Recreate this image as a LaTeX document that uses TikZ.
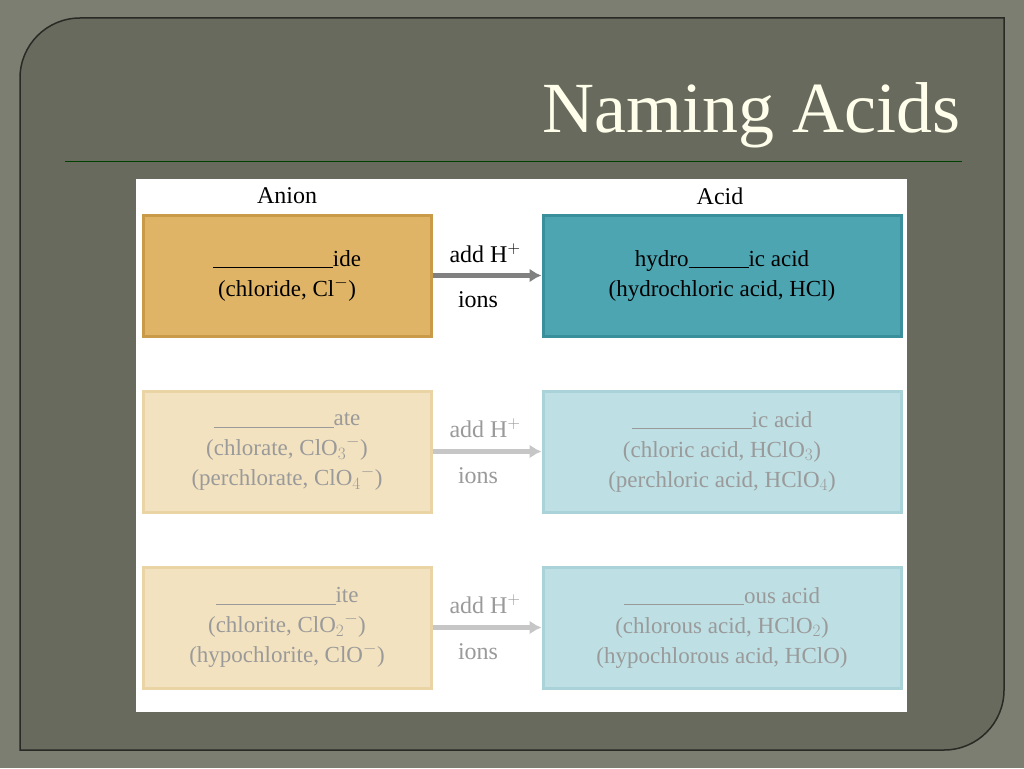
\documentclass[tikz,border=0pt]{standalone}
\usepackage{fontspec}
\setmainfont{Liberation Serif}
\usetikzlibrary{arrows.meta}
\begin{document}
\begin{tikzpicture}[x=1pt,y=-1pt,
 bx/.style={minimum width=288pt,minimum height=121pt,anchor=north west,draw,line width=3pt,align=center,font=\fontsize{23}{30}\selectfont,inner sep=0pt},
 rx/.style={bx,minimum width=358pt},
 lab/.style={font=\fontsize{24}{26}\selectfont},
 arr/.style={line width=5pt,-{Latex[length=12pt,width=14pt]}}]
\definecolor{outer}{HTML}{7B7E70}
\definecolor{panel}{HTML}{676A5C}
\definecolor{gold}{HTML}{E0B466}\definecolor{goldb}{HTML}{C99A48}
\definecolor{teal}{HTML}{4DA5B2}\definecolor{tealb}{HTML}{3A8F9C}
\definecolor{lgold}{HTML}{F3E2BF}\definecolor{lgoldb}{HTML}{EAD3A5}
\definecolor{lteal}{HTML}{BEDFE3}\definecolor{ltealb}{HTML}{A9D3D9}
\definecolor{fade}{HTML}{9A9A9A}
\newcommand{\bl}[1]{\underline{\hspace{#1}}}
\useasboundingbox (0,0) rectangle (1024,768);
\fill[outer] (0,0) rectangle (1024,768);
\filldraw[fill=panel,draw=black!60!panel,line width=1.5pt] (20,400) [rounded corners=60pt] -- (20,18) [sharp corners] -- (1004,18) [rounded corners=60pt] -- (1004,750) [sharp corners] -- (20,750) -- cycle;
\node[anchor=east,text=yellow!8!white,font=\fontsize{72}{74}\selectfont] (t) at (964,115) {Naming Acids};
\draw[green!25!black,line width=1pt] (65,161) -- (962,161);
\fill[white] (136,179) rectangle (907,712);
\node[lab] (an) at (287,196) {Anion};
\node[lab] (ac) at (720,196) {Acid};
\node[bx,fill=gold,draw=goldb] (a1) at (141.5,213.5) {\bl{120pt}ide\\(chloride, Cl$^{-}$)};
\node[rx,fill=teal,draw=tealb] (b1) at (541.5,213.5) {hydro\bl{60pt}ic acid\\(hydrochloric acid, HCl)};
\node[bx,fill=lgold,draw=lgoldb,text=fade] (a2) at (141.5,389.5) {\bl{120pt}ate\\(chlorate, ClO$_3{}^{-}$)\\(perchlorate, ClO$_4{}^{-}$)};
\node[rx,fill=lteal,draw=ltealb,text=fade] (b2) at (541.5,389.5) {\bl{120pt}ic acid\\(chloric acid, HClO$_3$)\\(perchloric acid, HClO$_4$)};
\node[bx,fill=lgold,draw=lgoldb,text=fade] (a3) at (141.5,565.5) {\bl{120pt}ite\\(chlorite, ClO$_2{}^{-}$)\\(hypochlorite, ClO$^{-}$)};
\node[rx,fill=lteal,draw=ltealb,text=fade] (b3) at (541.5,565.5) {\bl{120pt}ous acid\\(chlorous acid, HClO$_2$)\\(hypochlorous acid, HClO)};
\draw[arr,gray] (a1.east) -- (b1.west);
\draw[arr,gray!45] (a2.east) -- (b2.west);
\draw[arr,gray!45] (a3.east) -- (b3.west);
\node[lab] (h1) at (485,253) {add H$^{+}$};
\node[lab] (i1) at (478,300) {ions};
\node[lab,text=fade] (h2) at (485,428) {add H$^{+}$};
\node[lab,text=fade] (i2) at (478,476) {ions};
\node[lab,text=fade] (h3) at (485,604) {add H$^{+}$};
\node[lab,text=fade] (i3) at (478,652) {ions};
\end{tikzpicture}
\end{document}
